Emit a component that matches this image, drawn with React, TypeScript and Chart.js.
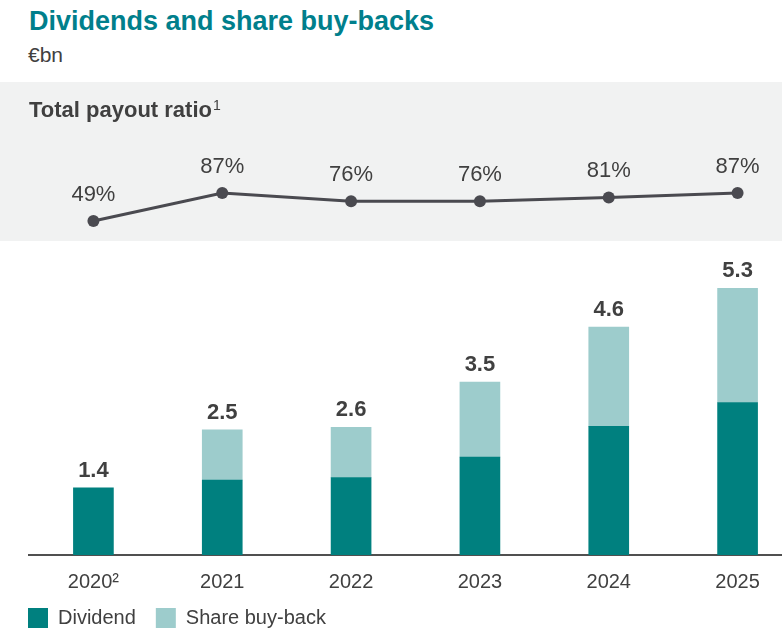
import React, { useEffect, useRef } from "react";
import { Chart, registerables } from "chart.js";

Chart.register(...registerables);

const years = ["2020²", "2021", "2022", "2023", "2024", "2025"];
const dividend = [1.35, 1.51, 1.56, 1.97, 2.59, 3.07];
const shareBuyBack = [null, 1.01, 1.01, 1.51, 2.0, 2.3];
const totalLabels = ["1.4", "2.5", "2.6", "3.5", "4.6", "5.3"];
const payoutRatio = [49, 87, 76, 76, 81, 87];

const FONT = "'Liberation Sans', Arial, Helvetica, sans-serif";
const TEXT = "#404040";
const TEAL = "#00807f";
const LIGHT = "#9dcccc";
const LINE = "#4a4a50";

const barTotalsPlugin = {
  id: "barTotals",
  afterDatasetsDraw(chart: any) {
    const ctx = chart.ctx;
    const y = chart.scales.y;
    const meta = chart.getDatasetMeta(0);
    ctx.save();
    ctx.font = `bold 22px ${FONT}`;
    ctx.fillStyle = TEXT;
    ctx.textAlign = "center";
    ctx.textBaseline = "alphabetic";
    years.forEach((_, i) => {
      const total = (dividend[i] || 0) + (shareBuyBack[i] || 0);
      const px = meta.data[i].x;
      const py = y.getPixelForValue(total);
      ctx.fillText(totalLabels[i], px, py - 11);
    });
    ctx.restore();
  },
};

const lineLabelsPlugin = {
  id: "lineLabels",
  afterDatasetsDraw(chart: any) {
    const ctx = chart.ctx;
    const meta = chart.getDatasetMeta(0);
    ctx.save();
    ctx.font = `22px ${FONT}`;
    ctx.fillStyle = TEXT;
    ctx.textAlign = "center";
    ctx.textBaseline = "alphabetic";
    payoutRatio.forEach((v, i) => {
      const p = meta.data[i];
      ctx.fillText(`${v}%`, p.x, p.y - 20);
    });
    ctx.restore();
  },
};

export default function App() {
  const lineRef = useRef<HTMLCanvasElement | null>(null);
  const barRef = useRef<HTMLCanvasElement | null>(null);

  useEffect(() => {
    const lineChart = new Chart(lineRef.current as HTMLCanvasElement, {
      type: "line",
      data: {
        labels: years,
        datasets: [
          {
            label: "Total payout ratio",
            data: payoutRatio,
            borderColor: LINE,
            backgroundColor: LINE,
            borderWidth: 3,
            pointRadius: 6,
            pointBackgroundColor: LINE,
            pointBorderWidth: 0,
            tension: 0,
            clip: false as any,
          },
        ],
      },
      options: {
        animation: false,
        responsive: false,
        maintainAspectRatio: false,
        devicePixelRatio: 1,
        layout: { autoPadding: false, padding: { left: 29, right: 0, top: 0, bottom: 0 } },
        plugins: { legend: { display: false }, tooltip: { enabled: false } },
        scales: {
          x: { type: "category", offset: true, display: false },
          y: { display: false, min: 21.9, max: 237.7 },
        },
      },
      plugins: [lineLabelsPlugin],
    });

    const barChart = new Chart(barRef.current as HTMLCanvasElement, {
      type: "bar",
      data: {
        labels: years,
        datasets: [
          {
            label: "Dividend",
            data: dividend,
            backgroundColor: TEAL,
            borderWidth: 0,
            barThickness: 40,
          },
          {
            label: "Share buy-back",
            data: shareBuyBack as any,
            backgroundColor: LIGHT,
            borderWidth: 0,
            barThickness: 40,
          },
        ],
      },
      options: {
        animation: false,
        responsive: false,
        maintainAspectRatio: false,
        devicePixelRatio: 1,
        layout: { autoPadding: false, padding: { left: 8, right: 0, top: 16, bottom: 0 } },
        plugins: {
          tooltip: { enabled: false },
          legend: {
            display: true,
            position: "bottom",
            align: "start",
            labels: {
              boxWidth: 20,
              boxHeight: 20,
              padding: 20,
              color: TEXT,
              font: { family: FONT, size: 20 },
            },
          },
        },
        scales: {
          x: {
            type: "category",
            stacked: true,
            offset: true,
            grid: { display: false },
            border: { display: true, color: "#505050", width: 2 },
            ticks: {
              color: TEXT,
              padding: 7,
              font: { family: FONT, size: 20 },
              maxRotation: 0,
            },
            afterFit: (axis: any) => {
              axis.height = 33;
              axis._computeLabelArea = () => undefined;
            },
          },
          y: {
            stacked: true,
            min: 0,
            max: 6,
            grid: { display: false },
            border: { display: false },
            ticks: { display: false },
            afterFit: (axis: any) => {
              axis.width = 21;
            },
          },
        },
      },
      plugins: [barTotalsPlugin],
    });

    return () => {
      lineChart.destroy();
      barChart.destroy();
    };
  }, []);

  return (
    <div
      style={{
        position: "fixed",
        left: 0,
        top: 0,
        width: 782,
        height: 637,
        overflow: "hidden",
        background: "#ffffff",
        fontFamily: FONT,
      }}
    >
      <div
        style={{
          position: "absolute",
          left: 29,
          top: 8,
          fontSize: 27,
          lineHeight: "27px",
          fontWeight: "bold",
          color: "#007f8c",
          whiteSpace: "nowrap",
        }}
      >
        Dividends and share buy-backs
      </div>
      <div
        style={{
          position: "absolute",
          left: 28,
          top: 44,
          fontSize: 21,
          lineHeight: "21px",
          color: TEXT,
          whiteSpace: "nowrap",
        }}
      >
        €bn
      </div>
      <div
        style={{
          position: "absolute",
          left: 0,
          top: 82,
          width: 782,
          height: 159,
          background: "#f1f2f2",
        }}
      />
      <canvas
        ref={lineRef}
        width={802}
        height={159}
        style={{ position: "absolute", left: 0, top: 82, width: 802, height: 159 }}
      />
      <div
        style={{
          position: "absolute",
          left: 29,
          top: 94,
          fontSize: 22,
          lineHeight: "22px",
          fontWeight: "bold",
          color: TEXT,
          whiteSpace: "nowrap",
        }}
      >
        Total payout ratio
        <sup style={{ fontSize: 14, fontWeight: "normal", verticalAlign: "7px", marginLeft: 1 }}>1</sup>
      </div>
      <canvas
        ref={barRef}
        width={802}
        height={397}
        style={{ position: "absolute", left: 0, top: 241, width: 802, height: 397 }}
      />
    </div>
  );
}
